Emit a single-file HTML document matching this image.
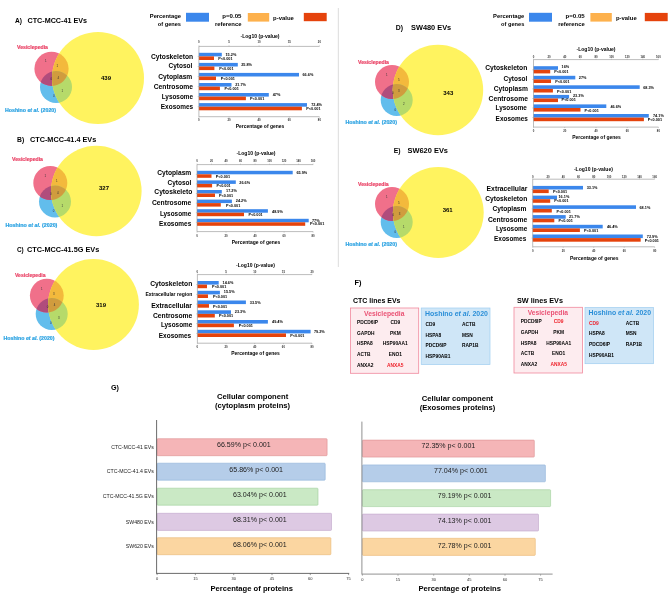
<!DOCTYPE html>
<html><head><meta charset="utf-8"><title>Figure</title>
<style>
html,body{margin:0;padding:0;background:#fff}
svg{display:block;font-family:'Liberation Sans', sans-serif}
</style></head><body>
<svg width="669" height="606" viewBox="0 0 669 606">
<defs>
<clipPath id="ay"><circle cx="98" cy="78" r="46"/></clipPath>
<clipPath id="ar"><circle cx="51.5" cy="68.8" r="17.1"/></clipPath>
<clipPath id="ab"><circle cx="56" cy="87" r="16"/></clipPath>
<clipPath id="by"><circle cx="96.3" cy="191" r="45.3"/></clipPath>
<clipPath id="br"><circle cx="50.3" cy="183" r="17"/></clipPath>
<clipPath id="bb"><circle cx="55" cy="201.5" r="16"/></clipPath>
<clipPath id="cy"><circle cx="93.5" cy="304.5" r="45.4"/></clipPath>
<clipPath id="cr"><circle cx="46.8" cy="295.6" r="16.9"/></clipPath>
<clipPath id="cb"><circle cx="51.7" cy="314" r="16"/></clipPath>
<clipPath id="dy"><circle cx="438" cy="90" r="45.2"/></clipPath>
<clipPath id="dr"><circle cx="392" cy="82" r="17"/></clipPath>
<clipPath id="db"><circle cx="396.7" cy="100" r="16"/></clipPath>
<clipPath id="ey"><circle cx="438.3" cy="212.5" r="45.4"/></clipPath>
<clipPath id="er"><circle cx="392" cy="204" r="17"/></clipPath>
<clipPath id="eb"><circle cx="396.7" cy="222" r="16"/></clipPath>
</defs>
<rect width="669" height="606" fill="#fff"/>
<circle cx="56" cy="87" r="16" fill="#62bdec"/>
<circle cx="51.5" cy="68.8" r="17.1" fill="#f0708a"/>
<circle cx="51.5" cy="68.8" r="17.1" fill="#b04c7c" clip-path="url(#ab)"/>
<circle cx="98" cy="78" r="46" fill="#fff35f"/>
<circle cx="51.5" cy="68.8" r="17.1" fill="#f3b93c" clip-path="url(#ay)"/>
<circle cx="56" cy="87" r="16" fill="#b6da6a" clip-path="url(#ay)"/>
<g clip-path="url(#ay)"><circle cx="51.5" cy="68.8" r="17.1" fill="#d09c3e" clip-path="url(#ab)"/></g>
<text x="15.0" y="22.9" font-size="7.2" font-weight="bold" textLength="7.0" lengthAdjust="spacingAndGlyphs">A)</text>
<text x="27.5" y="22.9" font-size="7.2" font-weight="bold" textLength="59.5" lengthAdjust="spacingAndGlyphs">CTC-MCC-41 EVs</text>
<text x="17.0" y="48.8" font-size="5.1" font-weight="bold" fill="#ea4467" stroke="#ea4467" stroke-width="0.2" textLength="31.0" lengthAdjust="spacingAndGlyphs">Vesiclepedia</text>
<text x="5.0" y="111.8" font-size="5.1" font-weight="bold" fill="#2aa2e2" stroke="#2aa2e2" stroke-width="0.2" textLength="51.0" lengthAdjust="spacingAndGlyphs">Hoshino <tspan font-style="italic">et al.</tspan> (2020)</text>
<text x="106.0" y="80.3" font-size="6.0" text-anchor="middle" font-weight="bold">439</text>
<text x="45.8" y="62.3" font-size="2.9" text-anchor="middle" fill="#333">1</text>
<text x="57.3" y="67.3" font-size="2.9" text-anchor="middle" fill="#333">1</text>
<text x="51.3" y="80.3" font-size="2.9" text-anchor="middle" fill="#333">0</text>
<text x="58.3" y="78.8" font-size="2.9" text-anchor="middle" fill="#333">4</text>
<text x="53.8" y="97.3" font-size="2.9" text-anchor="middle" fill="#333">0</text>
<text x="62.3" y="92.3" font-size="2.9" text-anchor="middle" fill="#333">1</text>
<circle cx="55" cy="201.5" r="16" fill="#62bdec"/>
<circle cx="50.3" cy="183" r="17" fill="#f0708a"/>
<circle cx="50.3" cy="183" r="17" fill="#b04c7c" clip-path="url(#bb)"/>
<circle cx="96.3" cy="191" r="45.3" fill="#fff35f"/>
<circle cx="50.3" cy="183" r="17" fill="#f3b93c" clip-path="url(#by)"/>
<circle cx="55" cy="201.5" r="16" fill="#b6da6a" clip-path="url(#by)"/>
<g clip-path="url(#by)"><circle cx="50.3" cy="183" r="17" fill="#d09c3e" clip-path="url(#bb)"/></g>
<text x="17.0" y="142.0" font-size="7.2" font-weight="bold" textLength="7.2" lengthAdjust="spacingAndGlyphs">B)</text>
<text x="30.0" y="142.0" font-size="7.2" font-weight="bold" textLength="66.2" lengthAdjust="spacingAndGlyphs">CTC-MCC-41.4 EVs</text>
<text x="12.0" y="160.5" font-size="5.1" font-weight="bold" fill="#ea4467" stroke="#ea4467" stroke-width="0.2" textLength="31.0" lengthAdjust="spacingAndGlyphs">Vesiclepedia</text>
<text x="5.5" y="226.8" font-size="5.1" font-weight="bold" fill="#2aa2e2" stroke="#2aa2e2" stroke-width="0.2" textLength="51.9" lengthAdjust="spacingAndGlyphs">Hoshino <tspan font-style="italic">et al.</tspan> (2020)</text>
<text x="104.0" y="189.7" font-size="6.0" text-anchor="middle" font-weight="bold">327</text>
<text x="45.3" y="177.3" font-size="2.9" text-anchor="middle" fill="#333">1</text>
<text x="56.8" y="181.8" font-size="2.9" text-anchor="middle" fill="#333">1</text>
<text x="50.8" y="194.8" font-size="2.9" text-anchor="middle" fill="#333">0</text>
<text x="57.8" y="193.5" font-size="2.9" text-anchor="middle" fill="#333">4</text>
<text x="53.5" y="212.3" font-size="2.9" text-anchor="middle" fill="#333">0</text>
<text x="62.3" y="206.8" font-size="2.9" text-anchor="middle" fill="#333">1</text>
<circle cx="51.7" cy="314" r="16" fill="#62bdec"/>
<circle cx="46.8" cy="295.6" r="16.9" fill="#f0708a"/>
<circle cx="46.8" cy="295.6" r="16.9" fill="#b04c7c" clip-path="url(#cb)"/>
<circle cx="93.5" cy="304.5" r="45.4" fill="#fff35f"/>
<circle cx="46.8" cy="295.6" r="16.9" fill="#f3b93c" clip-path="url(#cy)"/>
<circle cx="51.7" cy="314" r="16" fill="#b6da6a" clip-path="url(#cy)"/>
<g clip-path="url(#cy)"><circle cx="46.8" cy="295.6" r="16.9" fill="#d09c3e" clip-path="url(#cb)"/></g>
<text x="17.0" y="251.7" font-size="7.2" font-weight="bold" textLength="6.7" lengthAdjust="spacingAndGlyphs">C)</text>
<text x="27.0" y="251.7" font-size="7.2" font-weight="bold" textLength="72.2" lengthAdjust="spacingAndGlyphs">CTC-MCC-41.5G EVs</text>
<text x="15.0" y="276.8" font-size="5.1" font-weight="bold" fill="#ea4467" stroke="#ea4467" stroke-width="0.2" textLength="30.5" lengthAdjust="spacingAndGlyphs">Vesiclepedia</text>
<text x="3.5" y="339.8" font-size="5.1" font-weight="bold" fill="#2aa2e2" stroke="#2aa2e2" stroke-width="0.2" textLength="51.0" lengthAdjust="spacingAndGlyphs">Hoshino <tspan font-style="italic">et al.</tspan> (2020)</text>
<text x="101.0" y="307.1" font-size="6.0" text-anchor="middle" font-weight="bold">319</text>
<text x="41.8" y="289.8" font-size="2.9" text-anchor="middle" fill="#333">1</text>
<text x="53.8" y="294.8" font-size="2.9" text-anchor="middle" fill="#333">3</text>
<text x="47.5" y="307.8" font-size="2.9" text-anchor="middle" fill="#333">0</text>
<text x="54.5" y="305.8" font-size="2.9" text-anchor="middle" fill="#333">4</text>
<text x="50.8" y="324.3" font-size="2.9" text-anchor="middle" fill="#333">0</text>
<text x="58.8" y="319.3" font-size="2.9" text-anchor="middle" fill="#333">3</text>
<circle cx="396.7" cy="100" r="16" fill="#62bdec"/>
<circle cx="392" cy="82" r="17" fill="#f0708a"/>
<circle cx="392" cy="82" r="17" fill="#b04c7c" clip-path="url(#db)"/>
<circle cx="438" cy="90" r="45.2" fill="#fff35f"/>
<circle cx="392" cy="82" r="17" fill="#f3b93c" clip-path="url(#dy)"/>
<circle cx="396.7" cy="100" r="16" fill="#b6da6a" clip-path="url(#dy)"/>
<g clip-path="url(#dy)"><circle cx="392" cy="82" r="17" fill="#d09c3e" clip-path="url(#db)"/></g>
<text x="395.7" y="29.5" font-size="7.2" font-weight="bold" textLength="7.3" lengthAdjust="spacingAndGlyphs">D)</text>
<text x="411.0" y="29.5" font-size="7.2" font-weight="bold" textLength="40.2" lengthAdjust="spacingAndGlyphs">SW480 EVs</text>
<text x="358.0" y="63.5" font-size="5.1" font-weight="bold" fill="#ea4467" stroke="#ea4467" stroke-width="0.2" textLength="31.0" lengthAdjust="spacingAndGlyphs">Vesiclepedia</text>
<text x="345.5" y="124.3" font-size="5.1" font-weight="bold" fill="#2aa2e2" stroke="#2aa2e2" stroke-width="0.2" textLength="51.5" lengthAdjust="spacingAndGlyphs">Hoshino <tspan font-style="italic">et al.</tspan> (2020)</text>
<text x="448.3" y="94.6" font-size="6.0" text-anchor="middle" font-weight="bold">343</text>
<text x="386.8" y="75.8" font-size="2.9" text-anchor="middle" fill="#333">1</text>
<text x="398.8" y="81.3" font-size="2.9" text-anchor="middle" fill="#333">5</text>
<text x="392.8" y="93.8" font-size="2.9" text-anchor="middle" fill="#333">0</text>
<text x="398.8" y="92.3" font-size="2.9" text-anchor="middle" fill="#333">3</text>
<text x="395.3" y="110.5" font-size="2.9" text-anchor="middle" fill="#333">0</text>
<text x="403.8" y="104.8" font-size="2.9" text-anchor="middle" fill="#333">2</text>
<circle cx="396.7" cy="222" r="16" fill="#62bdec"/>
<circle cx="392" cy="204" r="17" fill="#f0708a"/>
<circle cx="392" cy="204" r="17" fill="#b04c7c" clip-path="url(#eb)"/>
<circle cx="438.3" cy="212.5" r="45.4" fill="#fff35f"/>
<circle cx="392" cy="204" r="17" fill="#f3b93c" clip-path="url(#ey)"/>
<circle cx="396.7" cy="222" r="16" fill="#b6da6a" clip-path="url(#ey)"/>
<g clip-path="url(#ey)"><circle cx="392" cy="204" r="17" fill="#d09c3e" clip-path="url(#eb)"/></g>
<text x="393.7" y="153.0" font-size="7.2" font-weight="bold" textLength="6.8" lengthAdjust="spacingAndGlyphs">E)</text>
<text x="407.5" y="153.0" font-size="7.2" font-weight="bold" textLength="40.5" lengthAdjust="spacingAndGlyphs">SW620 EVs</text>
<text x="358.0" y="185.5" font-size="5.1" font-weight="bold" fill="#ea4467" stroke="#ea4467" stroke-width="0.2" textLength="30.7" lengthAdjust="spacingAndGlyphs">Vesiclepedia</text>
<text x="345.5" y="245.8" font-size="5.1" font-weight="bold" fill="#2aa2e2" stroke="#2aa2e2" stroke-width="0.2" textLength="51.5" lengthAdjust="spacingAndGlyphs">Hoshino <tspan font-style="italic">et al.</tspan> (2020)</text>
<text x="447.7" y="212.1" font-size="6.0" text-anchor="middle" font-weight="bold">361</text>
<text x="386.8" y="197.8" font-size="2.9" text-anchor="middle" fill="#333">1</text>
<text x="398.8" y="203.5" font-size="2.9" text-anchor="middle" fill="#333">5</text>
<text x="393.3" y="215.8" font-size="2.9" text-anchor="middle" fill="#333">0</text>
<text x="399.5" y="214.5" font-size="2.9" text-anchor="middle" fill="#333">3</text>
<text x="395.3" y="232.8" font-size="2.9" text-anchor="middle" fill="#333">0</text>
<text x="403.8" y="227.5" font-size="2.9" text-anchor="middle" fill="#333">1</text>
<line x1="338.4" y1="7.9" x2="338.4" y2="267.0" stroke="#e2e2e2" stroke-width="1.2"/>
<text x="149.8" y="18.2" font-size="6.0" font-weight="bold" textLength="31.2" lengthAdjust="spacingAndGlyphs">Percentage</text>
<text x="157.8" y="26.2" font-size="6.0" font-weight="bold" textLength="23.2" lengthAdjust="spacingAndGlyphs">of genes</text>
<rect x="186.0" y="12.8" width="23.0" height="8.9" fill="#3b87ec"/>
<text x="222.3" y="18.2" font-size="6.0" font-weight="bold" textLength="19.2" lengthAdjust="spacingAndGlyphs">p=0.05</text>
<text x="215.0" y="26.2" font-size="6.0" font-weight="bold" textLength="26.5" lengthAdjust="spacingAndGlyphs">reference</text>
<rect x="247.8" y="13.0" width="21.4" height="8.6" fill="#fdb14d"/>
<text x="273.1" y="20.4" font-size="6.0" font-weight="bold" textLength="20.8" lengthAdjust="spacingAndGlyphs">p-value</text>
<rect x="303.8" y="12.9" width="22.9" height="8.3" fill="#e5430c"/>
<text x="493.1" y="18.2" font-size="6.0" font-weight="bold" textLength="31.2" lengthAdjust="spacingAndGlyphs">Percentage</text>
<text x="501.1" y="26.2" font-size="6.0" font-weight="bold" textLength="23.2" lengthAdjust="spacingAndGlyphs">of genes</text>
<rect x="529.0" y="12.8" width="23.0" height="8.9" fill="#3b87ec"/>
<text x="565.5" y="18.2" font-size="6.0" font-weight="bold" textLength="19.2" lengthAdjust="spacingAndGlyphs">p=0.05</text>
<text x="558.2" y="26.2" font-size="6.0" font-weight="bold" textLength="26.5" lengthAdjust="spacingAndGlyphs">reference</text>
<rect x="590.4" y="13.0" width="21.4" height="8.6" fill="#fdb14d"/>
<text x="615.9" y="20.4" font-size="6.0" font-weight="bold" textLength="20.8" lengthAdjust="spacingAndGlyphs">p-value</text>
<rect x="644.8" y="12.9" width="22.9" height="8.3" fill="#e5430c"/>
<text x="260.0" y="38.3" font-size="5.0" text-anchor="middle" font-weight="bold" textLength="39.0" lengthAdjust="spacingAndGlyphs">-Log10 (p-value)</text>
<text x="198.9" y="43.4" font-size="2.8" text-anchor="middle" font-weight="bold" fill="#333">0</text>
<line x1="198.9" y1="46.4" x2="198.9" y2="45.4" stroke="#8e8e8e" stroke-width="0.4"/>
<text x="229.0" y="43.4" font-size="2.8" text-anchor="middle" font-weight="bold" fill="#333">5</text>
<line x1="229.0" y1="46.4" x2="229.0" y2="45.4" stroke="#8e8e8e" stroke-width="0.4"/>
<text x="259.1" y="43.4" font-size="2.8" text-anchor="middle" font-weight="bold" fill="#333">10</text>
<line x1="259.1" y1="46.4" x2="259.1" y2="45.4" stroke="#8e8e8e" stroke-width="0.4"/>
<text x="289.3" y="43.4" font-size="2.8" text-anchor="middle" font-weight="bold" fill="#333">15</text>
<line x1="289.3" y1="46.4" x2="289.3" y2="45.4" stroke="#8e8e8e" stroke-width="0.4"/>
<text x="319.4" y="43.4" font-size="2.8" text-anchor="middle" font-weight="bold" fill="#333">20</text>
<line x1="319.4" y1="46.4" x2="319.4" y2="45.4" stroke="#8e8e8e" stroke-width="0.4"/>
<text x="198.9" y="121.0" font-size="2.8" text-anchor="middle" font-weight="bold" fill="#333">0</text>
<line x1="198.9" y1="116.7" x2="198.9" y2="117.7" stroke="#8e8e8e" stroke-width="0.4"/>
<text x="229.0" y="121.0" font-size="2.8" text-anchor="middle" font-weight="bold" fill="#333">20</text>
<line x1="229.0" y1="116.7" x2="229.0" y2="117.7" stroke="#8e8e8e" stroke-width="0.4"/>
<text x="259.1" y="121.0" font-size="2.8" text-anchor="middle" font-weight="bold" fill="#333">40</text>
<line x1="259.1" y1="116.7" x2="259.1" y2="117.7" stroke="#8e8e8e" stroke-width="0.4"/>
<text x="289.3" y="121.0" font-size="2.8" text-anchor="middle" font-weight="bold" fill="#333">60</text>
<line x1="289.3" y1="116.7" x2="289.3" y2="117.7" stroke="#8e8e8e" stroke-width="0.4"/>
<text x="319.4" y="121.0" font-size="2.8" text-anchor="middle" font-weight="bold" fill="#333">80</text>
<line x1="319.4" y1="116.7" x2="319.4" y2="117.7" stroke="#8e8e8e" stroke-width="0.4"/>
<text x="235.7" y="127.5" font-size="5.6" font-weight="bold" textLength="48.6" lengthAdjust="spacingAndGlyphs">Percentage of genes</text>
<rect x="198.9" y="52.8" width="22.9" height="3.6" fill="#3b87ec"/>
<rect x="198.9" y="56.4" width="15.1" height="3.6" fill="#e5430c"/>
<line x1="197.7" y1="56.4" x2="198.9" y2="56.4" stroke="#8e8e8e" stroke-width="0.4"/>
<text x="151.0" y="58.5" font-size="6.7" font-weight="bold" textLength="42.1" lengthAdjust="spacingAndGlyphs">Cytoskeleton</text>
<text x="225.5" y="55.6" font-size="3.8" font-weight="bold">15.2%</text>
<text x="218.3" y="59.5" font-size="3.8" font-weight="bold">P&lt;0.001</text>
<rect x="198.9" y="62.9" width="38.9" height="3.6" fill="#3b87ec"/>
<rect x="198.9" y="66.5" width="15.5" height="3.6" fill="#e5430c"/>
<line x1="197.7" y1="66.5" x2="198.9" y2="66.5" stroke="#8e8e8e" stroke-width="0.4"/>
<text x="168.5" y="68.4" font-size="6.7" font-weight="bold" textLength="23.8" lengthAdjust="spacingAndGlyphs">Cytosol</text>
<text x="241.2" y="65.7" font-size="3.8" font-weight="bold">25.8%</text>
<text x="219.3" y="69.8" font-size="3.8" font-weight="bold">P&lt;0.001</text>
<rect x="198.9" y="72.9" width="100.1" height="3.6" fill="#3b87ec"/>
<rect x="198.9" y="76.5" width="17.1" height="3.6" fill="#e5430c"/>
<line x1="197.7" y1="76.5" x2="198.9" y2="76.5" stroke="#8e8e8e" stroke-width="0.4"/>
<text x="158.2" y="78.6" font-size="6.7" font-weight="bold" textLength="34.1" lengthAdjust="spacingAndGlyphs">Cytoplasm</text>
<text x="302.5" y="75.8" font-size="3.8" font-weight="bold">66.6%</text>
<text x="220.7" y="79.9" font-size="3.8" font-weight="bold">P&lt;0.001</text>
<rect x="198.9" y="83.0" width="32.6" height="3.6" fill="#3b87ec"/>
<rect x="198.9" y="86.6" width="21.0" height="3.6" fill="#e5430c"/>
<line x1="197.7" y1="86.6" x2="198.9" y2="86.6" stroke="#8e8e8e" stroke-width="0.4"/>
<text x="153.7" y="88.8" font-size="6.7" font-weight="bold" textLength="39.4" lengthAdjust="spacingAndGlyphs">Centrosome</text>
<text x="235.2" y="85.9" font-size="3.8" font-weight="bold">21.7%</text>
<text x="224.5" y="89.8" font-size="3.8" font-weight="bold">P&lt;0.001</text>
<rect x="198.9" y="93.0" width="69.9" height="3.6" fill="#3b87ec"/>
<rect x="198.9" y="96.6" width="47.0" height="3.6" fill="#e5430c"/>
<line x1="197.7" y1="96.6" x2="198.9" y2="96.6" stroke="#8e8e8e" stroke-width="0.4"/>
<text x="161.7" y="98.8" font-size="6.7" font-weight="bold" textLength="31.4" lengthAdjust="spacingAndGlyphs">Lysosome</text>
<text x="272.7" y="96.3" font-size="3.8" font-weight="bold">47%</text>
<text x="250.0" y="100.1" font-size="3.8" font-weight="bold">P&lt;0.001</text>
<rect x="198.9" y="103.1" width="108.1" height="3.6" fill="#3b87ec"/>
<rect x="198.9" y="106.7" width="103.0" height="3.6" fill="#e5430c"/>
<line x1="197.7" y1="106.7" x2="198.9" y2="106.7" stroke="#8e8e8e" stroke-width="0.4"/>
<text x="160.8" y="109.2" font-size="6.7" font-weight="bold" textLength="32.3" lengthAdjust="spacingAndGlyphs">Exosomes</text>
<text x="311.2" y="105.6" font-size="3.8" font-weight="bold">72.4%</text>
<text x="306.3" y="109.6" font-size="3.8" font-weight="bold">P&lt;0.001</text>
<line x1="198.9" y1="46.4" x2="319.4" y2="46.4" stroke="#8e8e8e" stroke-width="0.6"/>
<line x1="198.9" y1="116.7" x2="319.4" y2="116.7" stroke="#8e8e8e" stroke-width="0.6"/>
<line x1="198.9" y1="46.4" x2="198.9" y2="116.7" stroke="#8e8e8e" stroke-width="0.6"/>
<text x="256.0" y="155.3" font-size="5.0" text-anchor="middle" font-weight="bold" textLength="39.0" lengthAdjust="spacingAndGlyphs">-Log10 (p-value)</text>
<text x="197.0" y="162.4" font-size="2.8" text-anchor="middle" font-weight="bold" fill="#333">0</text>
<line x1="197.0" y1="164.6" x2="197.0" y2="163.6" stroke="#8e8e8e" stroke-width="0.4"/>
<text x="211.5" y="162.4" font-size="2.8" text-anchor="middle" font-weight="bold" fill="#333">20</text>
<line x1="211.5" y1="164.6" x2="211.5" y2="163.6" stroke="#8e8e8e" stroke-width="0.4"/>
<text x="226.0" y="162.4" font-size="2.8" text-anchor="middle" font-weight="bold" fill="#333">40</text>
<line x1="226.0" y1="164.6" x2="226.0" y2="163.6" stroke="#8e8e8e" stroke-width="0.4"/>
<text x="240.5" y="162.4" font-size="2.8" text-anchor="middle" font-weight="bold" fill="#333">60</text>
<line x1="240.5" y1="164.6" x2="240.5" y2="163.6" stroke="#8e8e8e" stroke-width="0.4"/>
<text x="255.1" y="162.4" font-size="2.8" text-anchor="middle" font-weight="bold" fill="#333">80</text>
<line x1="255.1" y1="164.6" x2="255.1" y2="163.6" stroke="#8e8e8e" stroke-width="0.4"/>
<text x="269.6" y="162.4" font-size="2.8" text-anchor="middle" font-weight="bold" fill="#333">100</text>
<line x1="269.6" y1="164.6" x2="269.6" y2="163.6" stroke="#8e8e8e" stroke-width="0.4"/>
<text x="284.1" y="162.4" font-size="2.8" text-anchor="middle" font-weight="bold" fill="#333">120</text>
<line x1="284.1" y1="164.6" x2="284.1" y2="163.6" stroke="#8e8e8e" stroke-width="0.4"/>
<text x="298.6" y="162.4" font-size="2.8" text-anchor="middle" font-weight="bold" fill="#333">140</text>
<line x1="298.6" y1="164.6" x2="298.6" y2="163.6" stroke="#8e8e8e" stroke-width="0.4"/>
<text x="313.1" y="162.4" font-size="2.8" text-anchor="middle" font-weight="bold" fill="#333">160</text>
<line x1="313.1" y1="164.6" x2="313.1" y2="163.6" stroke="#8e8e8e" stroke-width="0.4"/>
<text x="197.0" y="236.5" font-size="2.8" text-anchor="middle" font-weight="bold" fill="#333">0</text>
<line x1="197.0" y1="231.6" x2="197.0" y2="232.6" stroke="#8e8e8e" stroke-width="0.4"/>
<text x="226.0" y="236.5" font-size="2.8" text-anchor="middle" font-weight="bold" fill="#333">20</text>
<line x1="226.0" y1="231.6" x2="226.0" y2="232.6" stroke="#8e8e8e" stroke-width="0.4"/>
<text x="255.1" y="236.5" font-size="2.8" text-anchor="middle" font-weight="bold" fill="#333">40</text>
<line x1="255.1" y1="231.6" x2="255.1" y2="232.6" stroke="#8e8e8e" stroke-width="0.4"/>
<text x="284.1" y="236.5" font-size="2.8" text-anchor="middle" font-weight="bold" fill="#333">60</text>
<line x1="284.1" y1="231.6" x2="284.1" y2="232.6" stroke="#8e8e8e" stroke-width="0.4"/>
<text x="313.1" y="236.5" font-size="2.8" text-anchor="middle" font-weight="bold" fill="#333">80</text>
<line x1="313.1" y1="231.6" x2="313.1" y2="232.6" stroke="#8e8e8e" stroke-width="0.4"/>
<text x="231.7" y="244.0" font-size="5.6" font-weight="bold" textLength="48.6" lengthAdjust="spacingAndGlyphs">Percentage of genes</text>
<rect x="197.0" y="170.8" width="95.7" height="3.5" fill="#3b87ec"/>
<rect x="197.0" y="174.3" width="14.5" height="3.5" fill="#e5430c"/>
<line x1="195.8" y1="174.3" x2="197.0" y2="174.3" stroke="#8e8e8e" stroke-width="0.4"/>
<text x="157.2" y="174.7" font-size="6.7" font-weight="bold" textLength="34.1" lengthAdjust="spacingAndGlyphs">Cytoplasm</text>
<text x="296.4" y="173.6" font-size="3.8" font-weight="bold">65.9%</text>
<text x="215.8" y="177.5" font-size="3.8" font-weight="bold">P&lt;0.001</text>
<rect x="197.0" y="180.4" width="38.8" height="3.5" fill="#3b87ec"/>
<rect x="197.0" y="183.9" width="15.1" height="3.5" fill="#e5430c"/>
<line x1="195.8" y1="183.9" x2="197.0" y2="183.9" stroke="#8e8e8e" stroke-width="0.4"/>
<text x="167.5" y="184.8" font-size="6.7" font-weight="bold" textLength="23.8" lengthAdjust="spacingAndGlyphs">Cytosol</text>
<text x="239.3" y="183.6" font-size="3.8" font-weight="bold">26.6%</text>
<text x="216.4" y="187.4" font-size="3.8" font-weight="bold">P&lt;0.001</text>
<rect x="197.0" y="190.0" width="24.8" height="3.5" fill="#3b87ec"/>
<rect x="197.0" y="193.5" width="18.0" height="3.5" fill="#e5430c"/>
<line x1="195.8" y1="193.5" x2="197.0" y2="193.5" stroke="#8e8e8e" stroke-width="0.4"/>
<text x="154.3" y="194.4" font-size="6.7" font-weight="bold" textLength="38.0" lengthAdjust="spacingAndGlyphs">Cytoskeleto</text>
<text x="226.1" y="192.1" font-size="3.8" font-weight="bold">17.2%</text>
<text x="218.9" y="196.8" font-size="3.8" font-weight="bold">P&lt;0.001</text>
<rect x="197.0" y="199.6" width="34.9" height="3.5" fill="#3b87ec"/>
<rect x="197.0" y="203.1" width="23.8" height="3.5" fill="#e5430c"/>
<line x1="195.8" y1="203.1" x2="197.0" y2="203.1" stroke="#8e8e8e" stroke-width="0.4"/>
<text x="151.9" y="205.1" font-size="6.7" font-weight="bold" textLength="39.4" lengthAdjust="spacingAndGlyphs">Centrosome</text>
<text x="235.8" y="202.2" font-size="3.8" font-weight="bold">24.2%</text>
<text x="226.1" y="206.7" font-size="3.8" font-weight="bold">P&lt;0.001</text>
<rect x="197.0" y="209.2" width="70.9" height="3.5" fill="#3b87ec"/>
<rect x="197.0" y="212.7" width="47.0" height="3.5" fill="#e5430c"/>
<line x1="195.8" y1="212.7" x2="197.0" y2="212.7" stroke="#8e8e8e" stroke-width="0.4"/>
<text x="159.9" y="215.5" font-size="6.7" font-weight="bold" textLength="31.4" lengthAdjust="spacingAndGlyphs">Lysosome</text>
<text x="272.1" y="212.7" font-size="3.8" font-weight="bold">48.9%</text>
<text x="248.4" y="216.0" font-size="3.8" font-weight="bold">P&lt;0.001</text>
<rect x="197.0" y="218.8" width="111.7" height="3.5" fill="#3b87ec"/>
<rect x="197.0" y="222.3" width="108.2" height="3.5" fill="#e5430c"/>
<line x1="195.8" y1="222.3" x2="197.0" y2="222.3" stroke="#8e8e8e" stroke-width="0.4"/>
<text x="159.0" y="226.2" font-size="6.7" font-weight="bold" textLength="32.3" lengthAdjust="spacingAndGlyphs">Exosomes</text>
<text x="312.0" y="221.5" font-size="3.8" font-weight="bold">77%</text>
<text x="310.0" y="225.3" font-size="3.8" font-weight="bold">P&lt;0.001</text>
<line x1="197.0" y1="164.6" x2="313.1" y2="164.6" stroke="#8e8e8e" stroke-width="0.6"/>
<line x1="197.0" y1="231.6" x2="313.1" y2="231.6" stroke="#8e8e8e" stroke-width="0.6"/>
<line x1="197.0" y1="164.6" x2="197.0" y2="231.6" stroke="#8e8e8e" stroke-width="0.6"/>
<text x="255.5" y="266.7" font-size="5.0" text-anchor="middle" font-weight="bold" textLength="39.0" lengthAdjust="spacingAndGlyphs">-Log10 (p-value)</text>
<text x="197.4" y="272.5" font-size="2.8" text-anchor="middle" font-weight="bold" fill="#333">0</text>
<line x1="197.4" y1="274.6" x2="197.4" y2="273.6" stroke="#8e8e8e" stroke-width="0.4"/>
<text x="226.1" y="272.5" font-size="2.8" text-anchor="middle" font-weight="bold" fill="#333">5</text>
<line x1="226.1" y1="274.6" x2="226.1" y2="273.6" stroke="#8e8e8e" stroke-width="0.4"/>
<text x="254.7" y="272.5" font-size="2.8" text-anchor="middle" font-weight="bold" fill="#333">10</text>
<line x1="254.7" y1="274.6" x2="254.7" y2="273.6" stroke="#8e8e8e" stroke-width="0.4"/>
<text x="283.4" y="272.5" font-size="2.8" text-anchor="middle" font-weight="bold" fill="#333">15</text>
<line x1="283.4" y1="274.6" x2="283.4" y2="273.6" stroke="#8e8e8e" stroke-width="0.4"/>
<text x="312.0" y="272.5" font-size="2.8" text-anchor="middle" font-weight="bold" fill="#333">20</text>
<line x1="312.0" y1="274.6" x2="312.0" y2="273.6" stroke="#8e8e8e" stroke-width="0.4"/>
<text x="197.4" y="347.9" font-size="2.8" text-anchor="middle" font-weight="bold" fill="#333">0</text>
<line x1="197.4" y1="343.2" x2="197.4" y2="344.2" stroke="#8e8e8e" stroke-width="0.4"/>
<text x="226.1" y="347.9" font-size="2.8" text-anchor="middle" font-weight="bold" fill="#333">20</text>
<line x1="226.1" y1="343.2" x2="226.1" y2="344.2" stroke="#8e8e8e" stroke-width="0.4"/>
<text x="254.7" y="347.9" font-size="2.8" text-anchor="middle" font-weight="bold" fill="#333">40</text>
<line x1="254.7" y1="343.2" x2="254.7" y2="344.2" stroke="#8e8e8e" stroke-width="0.4"/>
<text x="283.4" y="347.9" font-size="2.8" text-anchor="middle" font-weight="bold" fill="#333">60</text>
<line x1="283.4" y1="343.2" x2="283.4" y2="344.2" stroke="#8e8e8e" stroke-width="0.4"/>
<text x="312.0" y="347.9" font-size="2.8" text-anchor="middle" font-weight="bold" fill="#333">80</text>
<line x1="312.0" y1="343.2" x2="312.0" y2="344.2" stroke="#8e8e8e" stroke-width="0.4"/>
<text x="231.2" y="355.3" font-size="5.6" font-weight="bold" textLength="48.6" lengthAdjust="spacingAndGlyphs">Percentage of genes</text>
<rect x="197.4" y="281.0" width="21.3" height="3.6" fill="#3b87ec"/>
<rect x="197.4" y="284.6" width="9.6" height="3.6" fill="#e5430c"/>
<line x1="196.2" y1="284.6" x2="197.4" y2="284.6" stroke="#8e8e8e" stroke-width="0.4"/>
<text x="150.2" y="285.7" font-size="6.7" font-weight="bold" textLength="42.1" lengthAdjust="spacingAndGlyphs">Cytoskeleton</text>
<text x="222.6" y="283.7" font-size="3.8" font-weight="bold">14.6%</text>
<text x="212.1" y="287.6" font-size="3.8" font-weight="bold">P&lt;0.001</text>
<rect x="197.4" y="290.8" width="22.5" height="3.6" fill="#3b87ec"/>
<rect x="197.4" y="294.4" width="10.6" height="3.6" fill="#e5430c"/>
<line x1="196.2" y1="294.4" x2="197.4" y2="294.4" stroke="#8e8e8e" stroke-width="0.4"/>
<text x="145.4" y="296.1" font-size="4.7" font-weight="bold" textLength="46.9" lengthAdjust="spacingAndGlyphs">Extracellular region</text>
<text x="223.8" y="293.4" font-size="3.8" font-weight="bold">15.5%</text>
<text x="212.9" y="297.7" font-size="3.8" font-weight="bold">P&lt;0.001</text>
<rect x="197.4" y="300.5" width="48.5" height="3.6" fill="#3b87ec"/>
<rect x="197.4" y="304.1" width="11.6" height="3.6" fill="#e5430c"/>
<line x1="196.2" y1="304.1" x2="197.4" y2="304.1" stroke="#8e8e8e" stroke-width="0.4"/>
<text x="151.2" y="307.7" font-size="6.7" font-weight="bold" textLength="40.7" lengthAdjust="spacingAndGlyphs">Extracellular</text>
<text x="249.8" y="303.7" font-size="3.8" font-weight="bold">33.5%</text>
<text x="212.9" y="307.6" font-size="3.8" font-weight="bold">P&lt;0.001</text>
<rect x="197.4" y="310.3" width="33.6" height="3.6" fill="#3b87ec"/>
<rect x="197.4" y="313.9" width="17.4" height="3.6" fill="#e5430c"/>
<line x1="196.2" y1="313.9" x2="197.4" y2="313.9" stroke="#8e8e8e" stroke-width="0.4"/>
<text x="152.9" y="318.0" font-size="6.7" font-weight="bold" textLength="39.4" lengthAdjust="spacingAndGlyphs">Centrosome</text>
<text x="234.8" y="313.4" font-size="3.8" font-weight="bold">23.3%</text>
<text x="218.9" y="317.3" font-size="3.8" font-weight="bold">P&lt;0.001</text>
<rect x="197.4" y="320.0" width="70.5" height="3.6" fill="#3b87ec"/>
<rect x="197.4" y="323.6" width="36.5" height="3.6" fill="#e5430c"/>
<line x1="196.2" y1="323.6" x2="197.4" y2="323.6" stroke="#8e8e8e" stroke-width="0.4"/>
<text x="160.9" y="327.0" font-size="6.7" font-weight="bold" textLength="31.4" lengthAdjust="spacingAndGlyphs">Lysosome</text>
<text x="272.1" y="323.3" font-size="3.8" font-weight="bold">49.4%</text>
<text x="238.7" y="327.2" font-size="3.8" font-weight="bold">P&lt;0.001</text>
<rect x="197.4" y="329.8" width="113.2" height="3.6" fill="#3b87ec"/>
<rect x="197.4" y="333.4" width="88.6" height="3.6" fill="#e5430c"/>
<line x1="196.2" y1="333.4" x2="197.4" y2="333.4" stroke="#8e8e8e" stroke-width="0.4"/>
<text x="158.8" y="337.6" font-size="6.7" font-weight="bold" textLength="32.3" lengthAdjust="spacingAndGlyphs">Exosomes</text>
<text x="313.9" y="332.7" font-size="3.8" font-weight="bold">79.2%</text>
<text x="290.2" y="336.8" font-size="3.8" font-weight="bold">P&lt;0.001</text>
<line x1="197.4" y1="274.6" x2="312.0" y2="274.6" stroke="#8e8e8e" stroke-width="0.6"/>
<line x1="197.4" y1="343.2" x2="312.0" y2="343.2" stroke="#8e8e8e" stroke-width="0.6"/>
<line x1="197.4" y1="274.6" x2="197.4" y2="343.2" stroke="#8e8e8e" stroke-width="0.6"/>
<text x="596.0" y="51.4" font-size="5.0" text-anchor="middle" font-weight="bold" textLength="39.0" lengthAdjust="spacingAndGlyphs">-Log10 (p-value)</text>
<text x="533.5" y="57.9" font-size="2.8" text-anchor="middle" font-weight="bold" fill="#333">0</text>
<line x1="533.5" y1="59.6" x2="533.5" y2="58.6" stroke="#8e8e8e" stroke-width="0.4"/>
<text x="549.1" y="57.9" font-size="2.8" text-anchor="middle" font-weight="bold" fill="#333">20</text>
<line x1="549.1" y1="59.6" x2="549.1" y2="58.6" stroke="#8e8e8e" stroke-width="0.4"/>
<text x="564.7" y="57.9" font-size="2.8" text-anchor="middle" font-weight="bold" fill="#333">40</text>
<line x1="564.7" y1="59.6" x2="564.7" y2="58.6" stroke="#8e8e8e" stroke-width="0.4"/>
<text x="580.3" y="57.9" font-size="2.8" text-anchor="middle" font-weight="bold" fill="#333">60</text>
<line x1="580.3" y1="59.6" x2="580.3" y2="58.6" stroke="#8e8e8e" stroke-width="0.4"/>
<text x="596.0" y="57.9" font-size="2.8" text-anchor="middle" font-weight="bold" fill="#333">80</text>
<line x1="596.0" y1="59.6" x2="596.0" y2="58.6" stroke="#8e8e8e" stroke-width="0.4"/>
<text x="611.6" y="57.9" font-size="2.8" text-anchor="middle" font-weight="bold" fill="#333">100</text>
<line x1="611.6" y1="59.6" x2="611.6" y2="58.6" stroke="#8e8e8e" stroke-width="0.4"/>
<text x="627.2" y="57.9" font-size="2.8" text-anchor="middle" font-weight="bold" fill="#333">120</text>
<line x1="627.2" y1="59.6" x2="627.2" y2="58.6" stroke="#8e8e8e" stroke-width="0.4"/>
<text x="642.8" y="57.9" font-size="2.8" text-anchor="middle" font-weight="bold" fill="#333">140</text>
<line x1="642.8" y1="59.6" x2="642.8" y2="58.6" stroke="#8e8e8e" stroke-width="0.4"/>
<text x="658.4" y="57.9" font-size="2.8" text-anchor="middle" font-weight="bold" fill="#333">160</text>
<line x1="658.4" y1="59.6" x2="658.4" y2="58.6" stroke="#8e8e8e" stroke-width="0.4"/>
<text x="533.5" y="131.8" font-size="2.8" text-anchor="middle" font-weight="bold" fill="#333">0</text>
<line x1="533.5" y1="127.1" x2="533.5" y2="128.1" stroke="#8e8e8e" stroke-width="0.4"/>
<text x="564.7" y="131.8" font-size="2.8" text-anchor="middle" font-weight="bold" fill="#333">20</text>
<line x1="564.7" y1="127.1" x2="564.7" y2="128.1" stroke="#8e8e8e" stroke-width="0.4"/>
<text x="596.0" y="131.8" font-size="2.8" text-anchor="middle" font-weight="bold" fill="#333">40</text>
<line x1="596.0" y1="127.1" x2="596.0" y2="128.1" stroke="#8e8e8e" stroke-width="0.4"/>
<text x="627.2" y="131.8" font-size="2.8" text-anchor="middle" font-weight="bold" fill="#333">60</text>
<line x1="627.2" y1="127.1" x2="627.2" y2="128.1" stroke="#8e8e8e" stroke-width="0.4"/>
<text x="658.4" y="131.8" font-size="2.8" text-anchor="middle" font-weight="bold" fill="#333">80</text>
<line x1="658.4" y1="127.1" x2="658.4" y2="128.1" stroke="#8e8e8e" stroke-width="0.4"/>
<text x="572.2" y="139.1" font-size="5.6" font-weight="bold" textLength="48.6" lengthAdjust="spacingAndGlyphs">Percentage of genes</text>
<rect x="533.5" y="66.2" width="24.5" height="3.6" fill="#3b87ec"/>
<rect x="533.5" y="69.8" width="16.7" height="3.6" fill="#e5430c"/>
<line x1="532.3" y1="69.8" x2="533.5" y2="69.8" stroke="#8e8e8e" stroke-width="0.4"/>
<text x="485.2" y="70.3" font-size="6.7" font-weight="bold" textLength="42.1" lengthAdjust="spacingAndGlyphs">Cytoskeleton</text>
<text x="561.6" y="68.2" font-size="3.8" font-weight="bold">16%</text>
<text x="554.3" y="72.9" font-size="3.8" font-weight="bold">P&lt;0.001</text>
<rect x="533.5" y="75.8" width="41.8" height="3.6" fill="#3b87ec"/>
<rect x="533.5" y="79.4" width="17.5" height="3.6" fill="#e5430c"/>
<line x1="532.3" y1="79.4" x2="533.5" y2="79.4" stroke="#8e8e8e" stroke-width="0.4"/>
<text x="503.5" y="81.2" font-size="6.7" font-weight="bold" textLength="23.8" lengthAdjust="spacingAndGlyphs">Cytosol</text>
<text x="578.8" y="78.5" font-size="3.8" font-weight="bold">27%</text>
<text x="555.3" y="82.7" font-size="3.8" font-weight="bold">P&lt;0.001</text>
<rect x="533.5" y="85.3" width="106.2" height="3.6" fill="#3b87ec"/>
<rect x="533.5" y="88.9" width="19.4" height="3.6" fill="#e5430c"/>
<line x1="532.3" y1="88.9" x2="533.5" y2="88.9" stroke="#8e8e8e" stroke-width="0.4"/>
<text x="493.8" y="90.5" font-size="6.7" font-weight="bold" textLength="34.1" lengthAdjust="spacingAndGlyphs">Cytoplasm</text>
<text x="643.2" y="88.5" font-size="3.8" font-weight="bold">68.3%</text>
<text x="557.0" y="92.5" font-size="3.8" font-weight="bold">P&lt;0.001</text>
<rect x="533.5" y="94.9" width="35.6" height="3.6" fill="#3b87ec"/>
<rect x="533.5" y="98.5" width="24.5" height="3.6" fill="#e5430c"/>
<line x1="532.3" y1="98.5" x2="533.5" y2="98.5" stroke="#8e8e8e" stroke-width="0.4"/>
<text x="488.5" y="100.8" font-size="6.7" font-weight="bold" textLength="39.4" lengthAdjust="spacingAndGlyphs">Centrosome</text>
<text x="573.0" y="97.3" font-size="3.8" font-weight="bold">23.3%</text>
<text x="561.6" y="101.4" font-size="3.8" font-weight="bold">P&lt;0.001</text>
<rect x="533.5" y="104.4" width="72.8" height="3.6" fill="#3b87ec"/>
<rect x="533.5" y="108.0" width="47.0" height="3.6" fill="#e5430c"/>
<line x1="532.3" y1="108.0" x2="533.5" y2="108.0" stroke="#8e8e8e" stroke-width="0.4"/>
<text x="495.5" y="110.1" font-size="6.7" font-weight="bold" textLength="31.4" lengthAdjust="spacingAndGlyphs">Lysosome</text>
<text x="610.4" y="107.6" font-size="3.8" font-weight="bold">46.6%</text>
<text x="584.6" y="111.8" font-size="3.8" font-weight="bold">P&lt;0.001</text>
<rect x="533.5" y="114.0" width="115.3" height="3.6" fill="#3b87ec"/>
<rect x="533.5" y="117.6" width="110.4" height="3.6" fill="#e5430c"/>
<line x1="532.3" y1="117.6" x2="533.5" y2="117.6" stroke="#8e8e8e" stroke-width="0.4"/>
<text x="495.6" y="120.8" font-size="6.7" font-weight="bold" textLength="32.3" lengthAdjust="spacingAndGlyphs">Exosomes</text>
<text x="653.0" y="117.0" font-size="3.8" font-weight="bold">74.1%</text>
<text x="647.8" y="121.1" font-size="3.8" font-weight="bold">P&lt;0.001</text>
<line x1="533.5" y1="59.6" x2="658.4" y2="59.6" stroke="#8e8e8e" stroke-width="0.6"/>
<line x1="533.5" y1="127.1" x2="658.4" y2="127.1" stroke="#8e8e8e" stroke-width="0.6"/>
<line x1="533.5" y1="59.6" x2="533.5" y2="127.1" stroke="#8e8e8e" stroke-width="0.6"/>
<text x="593.4" y="170.7" font-size="5.0" text-anchor="middle" font-weight="bold" textLength="39.0" lengthAdjust="spacingAndGlyphs">-Log10 (p-value)</text>
<text x="532.7" y="177.5" font-size="2.8" text-anchor="middle" font-weight="bold" fill="#333">0</text>
<line x1="532.7" y1="179.2" x2="532.7" y2="178.2" stroke="#8e8e8e" stroke-width="0.4"/>
<text x="548.0" y="177.5" font-size="2.8" text-anchor="middle" font-weight="bold" fill="#333">20</text>
<line x1="548.0" y1="179.2" x2="548.0" y2="178.2" stroke="#8e8e8e" stroke-width="0.4"/>
<text x="563.2" y="177.5" font-size="2.8" text-anchor="middle" font-weight="bold" fill="#333">40</text>
<line x1="563.2" y1="179.2" x2="563.2" y2="178.2" stroke="#8e8e8e" stroke-width="0.4"/>
<text x="578.5" y="177.5" font-size="2.8" text-anchor="middle" font-weight="bold" fill="#333">60</text>
<line x1="578.5" y1="179.2" x2="578.5" y2="178.2" stroke="#8e8e8e" stroke-width="0.4"/>
<text x="593.7" y="177.5" font-size="2.8" text-anchor="middle" font-weight="bold" fill="#333">80</text>
<line x1="593.7" y1="179.2" x2="593.7" y2="178.2" stroke="#8e8e8e" stroke-width="0.4"/>
<text x="609.0" y="177.5" font-size="2.8" text-anchor="middle" font-weight="bold" fill="#333">100</text>
<line x1="609.0" y1="179.2" x2="609.0" y2="178.2" stroke="#8e8e8e" stroke-width="0.4"/>
<text x="624.2" y="177.5" font-size="2.8" text-anchor="middle" font-weight="bold" fill="#333">120</text>
<line x1="624.2" y1="179.2" x2="624.2" y2="178.2" stroke="#8e8e8e" stroke-width="0.4"/>
<text x="639.5" y="177.5" font-size="2.8" text-anchor="middle" font-weight="bold" fill="#333">140</text>
<line x1="639.5" y1="179.2" x2="639.5" y2="178.2" stroke="#8e8e8e" stroke-width="0.4"/>
<text x="654.7" y="177.5" font-size="2.8" text-anchor="middle" font-weight="bold" fill="#333">160</text>
<line x1="654.7" y1="179.2" x2="654.7" y2="178.2" stroke="#8e8e8e" stroke-width="0.4"/>
<text x="532.7" y="252.3" font-size="2.8" text-anchor="middle" font-weight="bold" fill="#333">0</text>
<line x1="532.7" y1="246.8" x2="532.7" y2="247.8" stroke="#8e8e8e" stroke-width="0.4"/>
<text x="563.2" y="252.3" font-size="2.8" text-anchor="middle" font-weight="bold" fill="#333">20</text>
<line x1="563.2" y1="246.8" x2="563.2" y2="247.8" stroke="#8e8e8e" stroke-width="0.4"/>
<text x="593.7" y="252.3" font-size="2.8" text-anchor="middle" font-weight="bold" fill="#333">40</text>
<line x1="593.7" y1="246.8" x2="593.7" y2="247.8" stroke="#8e8e8e" stroke-width="0.4"/>
<text x="624.2" y="252.3" font-size="2.8" text-anchor="middle" font-weight="bold" fill="#333">60</text>
<line x1="624.2" y1="246.8" x2="624.2" y2="247.8" stroke="#8e8e8e" stroke-width="0.4"/>
<text x="654.7" y="252.3" font-size="2.8" text-anchor="middle" font-weight="bold" fill="#333">80</text>
<line x1="654.7" y1="246.8" x2="654.7" y2="247.8" stroke="#8e8e8e" stroke-width="0.4"/>
<text x="569.9" y="260.0" font-size="5.6" font-weight="bold" textLength="48.6" lengthAdjust="spacingAndGlyphs">Percentage of genes</text>
<rect x="532.7" y="185.9" width="50.3" height="3.6" fill="#3b87ec"/>
<rect x="532.7" y="189.5" width="16.0" height="3.6" fill="#e5430c"/>
<line x1="531.5" y1="189.5" x2="532.7" y2="189.5" stroke="#8e8e8e" stroke-width="0.4"/>
<text x="486.6" y="190.9" font-size="6.7" font-weight="bold" textLength="40.7" lengthAdjust="spacingAndGlyphs">Extracellular</text>
<text x="586.7" y="189.3" font-size="3.8" font-weight="bold">33.1%</text>
<text x="552.9" y="193.0" font-size="3.8" font-weight="bold">P&lt;0.001</text>
<rect x="532.7" y="195.6" width="24.3" height="3.6" fill="#3b87ec"/>
<rect x="532.7" y="199.2" width="17.5" height="3.6" fill="#e5430c"/>
<line x1="531.5" y1="199.2" x2="532.7" y2="199.2" stroke="#8e8e8e" stroke-width="0.4"/>
<text x="485.2" y="201.0" font-size="6.7" font-weight="bold" textLength="42.1" lengthAdjust="spacingAndGlyphs">Cytoskeleton</text>
<text x="558.5" y="198.0" font-size="3.8" font-weight="bold">16.1%</text>
<text x="554.3" y="202.2" font-size="3.8" font-weight="bold">P&lt;0.001</text>
<rect x="532.7" y="205.3" width="103.3" height="3.6" fill="#3b87ec"/>
<rect x="532.7" y="208.9" width="19.1" height="3.6" fill="#e5430c"/>
<line x1="531.5" y1="208.9" x2="532.7" y2="208.9" stroke="#8e8e8e" stroke-width="0.4"/>
<text x="492.4" y="211.3" font-size="6.7" font-weight="bold" textLength="34.1" lengthAdjust="spacingAndGlyphs">Cytoplasm</text>
<text x="639.5" y="208.6" font-size="3.8" font-weight="bold">68.1%</text>
<text x="556.6" y="212.7" font-size="3.8" font-weight="bold">P&lt;0.001</text>
<rect x="532.7" y="215.1" width="33.0" height="3.6" fill="#3b87ec"/>
<rect x="532.7" y="218.7" width="21.6" height="3.6" fill="#e5430c"/>
<line x1="531.5" y1="218.7" x2="532.7" y2="218.7" stroke="#8e8e8e" stroke-width="0.4"/>
<text x="487.9" y="221.8" font-size="6.7" font-weight="bold" textLength="39.4" lengthAdjust="spacingAndGlyphs">Centrosome</text>
<text x="569.0" y="217.9" font-size="3.8" font-weight="bold">21.7%</text>
<text x="558.5" y="222.1" font-size="3.8" font-weight="bold">P&lt;0.001</text>
<rect x="532.7" y="224.8" width="70.0" height="3.6" fill="#3b87ec"/>
<rect x="532.7" y="228.4" width="47.2" height="3.6" fill="#e5430c"/>
<line x1="531.5" y1="228.4" x2="532.7" y2="228.4" stroke="#8e8e8e" stroke-width="0.4"/>
<text x="495.9" y="230.9" font-size="6.7" font-weight="bold" textLength="31.4" lengthAdjust="spacingAndGlyphs">Lysosome</text>
<text x="606.9" y="227.7" font-size="3.8" font-weight="bold">46.4%</text>
<text x="584.0" y="232.1" font-size="3.8" font-weight="bold">P&lt;0.001</text>
<rect x="532.7" y="234.5" width="110.1" height="3.6" fill="#3b87ec"/>
<rect x="532.7" y="238.1" width="108.0" height="3.6" fill="#e5430c"/>
<line x1="531.5" y1="238.1" x2="532.7" y2="238.1" stroke="#8e8e8e" stroke-width="0.4"/>
<text x="494.0" y="240.8" font-size="6.7" font-weight="bold" textLength="32.3" lengthAdjust="spacingAndGlyphs">Exosomes</text>
<text x="646.8" y="237.5" font-size="3.8" font-weight="bold">72.9%</text>
<text x="644.7" y="241.6" font-size="3.8" font-weight="bold">P&lt;0.001</text>
<line x1="532.7" y1="179.2" x2="654.7" y2="179.2" stroke="#8e8e8e" stroke-width="0.6"/>
<line x1="532.7" y1="246.8" x2="654.7" y2="246.8" stroke="#8e8e8e" stroke-width="0.6"/>
<line x1="532.7" y1="179.2" x2="532.7" y2="246.8" stroke="#8e8e8e" stroke-width="0.6"/>
<text x="354.5" y="285.0" font-size="7.4" font-weight="bold">F)</text>
<text x="353.0" y="302.6" font-size="7.4" font-weight="bold" textLength="47.5" lengthAdjust="spacingAndGlyphs">CTC lines EVs</text>
<text x="517.0" y="302.8" font-size="7.4" font-weight="bold" textLength="46.0" lengthAdjust="spacingAndGlyphs">SW lines EVs</text>
<rect x="350.5" y="308.0" width="68.2" height="65.3" fill="#fdecef" stroke="#f0899d" stroke-width="0.8"/>
<rect x="421.2" y="308.0" width="68.8" height="56.5" fill="#cfe6f7" stroke="#9fcdf0" stroke-width="0.7"/>
<text x="364.0" y="315.6" font-size="6.6" font-weight="bold" fill="#ea5274" textLength="40.5" lengthAdjust="spacingAndGlyphs">Vesiclepedia</text>
<text x="425.0" y="315.6" font-size="6.6" font-weight="bold" fill="#2b8fd8" textLength="63.0" lengthAdjust="spacingAndGlyphs">Hoshino <tspan font-style="italic">et al.</tspan> 2020</text>
<text x="357.0" y="324.2" font-size="4.85" font-weight="bold">PDCD6IP</text>
<text x="395.3" y="324.2" font-size="4.85" text-anchor="middle" font-weight="bold">CD9</text>
<text x="357.0" y="334.7" font-size="4.85" font-weight="bold">GAPDH</text>
<text x="395.3" y="334.7" font-size="4.85" text-anchor="middle" font-weight="bold">PKM</text>
<text x="357.0" y="345.4" font-size="4.85" font-weight="bold">HSPA8</text>
<text x="395.3" y="345.4" font-size="4.85" text-anchor="middle" font-weight="bold">HSP90AA1</text>
<text x="357.0" y="355.7" font-size="4.85" font-weight="bold">ACTB</text>
<text x="395.3" y="355.7" font-size="4.85" text-anchor="middle" font-weight="bold">ENO1</text>
<text x="357.0" y="366.7" font-size="4.85" font-weight="bold">ANXA2</text>
<text x="395.3" y="366.7" font-size="4.85" text-anchor="middle" font-weight="bold" fill="#ee1c25">ANXA5</text>
<text x="425.5" y="326.2" font-size="4.85" font-weight="bold">CD9</text>
<text x="462.0" y="326.2" font-size="4.85" font-weight="bold">ACTB</text>
<text x="425.5" y="336.7" font-size="4.85" font-weight="bold">HSPA8</text>
<text x="462.0" y="336.7" font-size="4.85" font-weight="bold">MSN</text>
<text x="425.5" y="347.2" font-size="4.85" font-weight="bold">PDCD6IP</text>
<text x="462.0" y="347.2" font-size="4.85" font-weight="bold">RAP1B</text>
<text x="425.5" y="357.7" font-size="4.85" font-weight="bold">HSP90AB1</text>
<rect x="514.0" y="307.3" width="68.4" height="65.7" fill="#fdecef" stroke="#f0899d" stroke-width="0.8"/>
<rect x="585.0" y="307.5" width="68.5" height="56.2" fill="#cfe6f7" stroke="#9fcdf0" stroke-width="0.7"/>
<text x="527.7" y="314.6" font-size="6.6" font-weight="bold" fill="#ea5274" textLength="40.3" lengthAdjust="spacingAndGlyphs">Vesiclepedia</text>
<text x="588.6" y="315.3" font-size="6.6" font-weight="bold" fill="#2b8fd8" textLength="62.4" lengthAdjust="spacingAndGlyphs">Hoshino <tspan font-style="italic">et al.</tspan> 2020</text>
<text x="520.7" y="323.4" font-size="4.85" font-weight="bold">PDCD6IP</text>
<text x="558.7" y="323.4" font-size="4.85" text-anchor="middle" font-weight="bold" fill="#ee1c25">CD9</text>
<text x="520.7" y="333.7" font-size="4.85" font-weight="bold">GAPDH</text>
<text x="558.7" y="333.7" font-size="4.85" text-anchor="middle" font-weight="bold">PKM</text>
<text x="520.7" y="344.7" font-size="4.85" font-weight="bold">HSPA8</text>
<text x="558.7" y="344.7" font-size="4.85" text-anchor="middle" font-weight="bold">HSP90AA1</text>
<text x="520.7" y="354.7" font-size="4.85" font-weight="bold">ACTB</text>
<text x="558.7" y="354.7" font-size="4.85" text-anchor="middle" font-weight="bold">ENO1</text>
<text x="520.7" y="365.7" font-size="4.85" font-weight="bold">ANXA2</text>
<text x="558.7" y="365.7" font-size="4.85" text-anchor="middle" font-weight="bold" fill="#ee1c25">ANXA5</text>
<text x="589.0" y="324.7" font-size="4.85" font-weight="bold" fill="#ee1c25">CD9</text>
<text x="625.7" y="324.7" font-size="4.85" font-weight="bold">ACTB</text>
<text x="589.0" y="335.4" font-size="4.85" font-weight="bold">HSPA8</text>
<text x="625.7" y="335.4" font-size="4.85" font-weight="bold">MSN</text>
<text x="589.0" y="345.7" font-size="4.85" font-weight="bold">PDCD6IP</text>
<text x="625.7" y="345.7" font-size="4.85" font-weight="bold">RAP1B</text>
<text x="589.0" y="356.7" font-size="4.85" font-weight="bold">HSP90AB1</text>
<text x="111.0" y="390.0" font-size="7.2" font-weight="bold">G)</text>
<text x="252.6" y="398.7" font-size="7.65" text-anchor="middle" font-weight="bold">Cellular component</text>
<text x="252.6" y="407.7" font-size="7.65" text-anchor="middle" font-weight="bold">(cytoplasm proteins)</text>
<rect x="157.1" y="438.7" width="170.0" height="17.0" rx="0.8" fill="#f5b5b7" stroke="#dc8e91" stroke-width="0.6"/>
<text x="217.0" y="447.0" font-size="7.0" fill="#222" textLength="53.7" lengthAdjust="spacingAndGlyphs">66.59% p&lt; 0.001</text>
<text x="153.8" y="448.8" font-size="5.2" text-anchor="end" fill="#222">CTC-MCC-41 EVs</text>
<rect x="157.1" y="463.2" width="168.1" height="17.0" rx="0.8" fill="#b5cde9" stroke="#8fb1d8" stroke-width="0.6"/>
<text x="229.3" y="471.8" font-size="7.0" fill="#222" textLength="53.7" lengthAdjust="spacingAndGlyphs">65.86% p&lt; 0.001</text>
<text x="153.8" y="473.3" font-size="5.2" text-anchor="end" fill="#222">CTC-MCC-41.4 EVs</text>
<rect x="157.1" y="488.2" width="160.9" height="17.0" rx="0.8" fill="#cae9c5" stroke="#a0cf9a" stroke-width="0.6"/>
<text x="233.0" y="497.0" font-size="7.0" fill="#222" textLength="53.7" lengthAdjust="spacingAndGlyphs">63.04% p&lt; 0.001</text>
<text x="153.8" y="498.3" font-size="5.2" text-anchor="end" fill="#222">CTC-MCC-41.5G EVs</text>
<rect x="157.1" y="513.3" width="174.4" height="17.1" rx="0.8" fill="#ddc9e3" stroke="#c0a5ca" stroke-width="0.6"/>
<text x="233.0" y="521.8" font-size="7.0" fill="#222" textLength="53.7" lengthAdjust="spacingAndGlyphs">68.31% p&lt; 0.001</text>
<text x="153.8" y="523.5" font-size="5.2" text-anchor="end" fill="#222">SW480 EVs</text>
<rect x="157.1" y="537.7" width="173.8" height="17.0" rx="0.8" fill="#fbd6a1" stroke="#e9b775" stroke-width="0.6"/>
<text x="233.0" y="546.6" font-size="7.0" fill="#222" textLength="53.7" lengthAdjust="spacingAndGlyphs">68.06% p&lt; 0.001</text>
<text x="153.8" y="547.8" font-size="5.2" text-anchor="end" fill="#222">SW620 EVs</text>
<line x1="156.6" y1="420.0" x2="156.6" y2="573.8" stroke="#5a5a5a" stroke-width="0.9"/>
<line x1="156.6" y1="573.4" x2="349.2" y2="573.4" stroke="#5a5a5a" stroke-width="0.9"/>
<line x1="157.1" y1="573.4" x2="157.1" y2="575.1" stroke="#5a5a5a" stroke-width="0.6"/>
<text x="157.1" y="580.2" font-size="4.0" text-anchor="middle" fill="#2a2a2a">0</text>
<line x1="195.4" y1="573.4" x2="195.4" y2="575.1" stroke="#5a5a5a" stroke-width="0.6"/>
<text x="195.4" y="580.2" font-size="4.0" text-anchor="middle" fill="#2a2a2a">15</text>
<line x1="233.7" y1="573.4" x2="233.7" y2="575.1" stroke="#5a5a5a" stroke-width="0.6"/>
<text x="233.7" y="580.2" font-size="4.0" text-anchor="middle" fill="#2a2a2a">30</text>
<line x1="272.0" y1="573.4" x2="272.0" y2="575.1" stroke="#5a5a5a" stroke-width="0.6"/>
<text x="272.0" y="580.2" font-size="4.0" text-anchor="middle" fill="#2a2a2a">45</text>
<line x1="310.3" y1="573.4" x2="310.3" y2="575.1" stroke="#5a5a5a" stroke-width="0.6"/>
<text x="310.3" y="580.2" font-size="4.0" text-anchor="middle" fill="#2a2a2a">60</text>
<line x1="348.6" y1="573.4" x2="348.6" y2="575.1" stroke="#5a5a5a" stroke-width="0.6"/>
<text x="348.6" y="580.2" font-size="4.0" text-anchor="middle" fill="#2a2a2a">75</text>
<text x="210.4" y="590.9" font-size="7.7" font-weight="bold" textLength="82.6" lengthAdjust="spacingAndGlyphs">Percentage of proteins</text>
<text x="457.5" y="400.7" font-size="7.65" text-anchor="middle" font-weight="bold">Cellular component</text>
<text x="457.5" y="409.7" font-size="7.65" text-anchor="middle" font-weight="bold">(Exosomes proteins)</text>
<rect x="362.4" y="440.1" width="171.9" height="17.0" rx="0.8" fill="#f5b5b7" stroke="#dc8e91" stroke-width="0.6"/>
<text x="421.6" y="448.3" font-size="7.0" fill="#222" textLength="53.7" lengthAdjust="spacingAndGlyphs">72.35% p&lt; 0.001</text>
<rect x="362.4" y="464.9" width="183.0" height="16.9" rx="0.8" fill="#b5cde9" stroke="#8fb1d8" stroke-width="0.6"/>
<text x="434.0" y="473.3" font-size="7.0" fill="#222" textLength="53.7" lengthAdjust="spacingAndGlyphs">77.04% p&lt; 0.001</text>
<rect x="362.4" y="489.7" width="188.2" height="16.9" rx="0.8" fill="#cae9c5" stroke="#a0cf9a" stroke-width="0.6"/>
<text x="437.8" y="498.3" font-size="7.0" fill="#222" textLength="53.7" lengthAdjust="spacingAndGlyphs">79.19% p&lt; 0.001</text>
<rect x="362.4" y="514.1" width="176.1" height="16.9" rx="0.8" fill="#ddc9e3" stroke="#c0a5ca" stroke-width="0.6"/>
<text x="437.8" y="522.7" font-size="7.0" fill="#222" textLength="53.7" lengthAdjust="spacingAndGlyphs">74.13% p&lt; 0.001</text>
<rect x="362.4" y="538.3" width="172.9" height="17.1" rx="0.8" fill="#fbd6a1" stroke="#e9b775" stroke-width="0.6"/>
<text x="437.8" y="547.5" font-size="7.0" fill="#222" textLength="53.7" lengthAdjust="spacingAndGlyphs">72.78% p&lt; 0.001</text>
<line x1="361.9" y1="421.6" x2="361.9" y2="574.5" stroke="#858585" stroke-width="0.9"/>
<line x1="361.9" y1="574.1" x2="552.6" y2="574.1" stroke="#858585" stroke-width="0.9"/>
<line x1="362.4" y1="574.1" x2="362.4" y2="575.8" stroke="#858585" stroke-width="0.6"/>
<text x="362.4" y="580.8" font-size="4.0" text-anchor="middle" fill="#2a2a2a">0</text>
<line x1="398.0" y1="574.1" x2="398.0" y2="575.8" stroke="#858585" stroke-width="0.6"/>
<text x="398.0" y="580.8" font-size="4.0" text-anchor="middle" fill="#2a2a2a">15</text>
<line x1="433.7" y1="574.1" x2="433.7" y2="575.8" stroke="#858585" stroke-width="0.6"/>
<text x="433.7" y="580.8" font-size="4.0" text-anchor="middle" fill="#2a2a2a">30</text>
<line x1="469.3" y1="574.1" x2="469.3" y2="575.8" stroke="#858585" stroke-width="0.6"/>
<text x="469.3" y="580.8" font-size="4.0" text-anchor="middle" fill="#2a2a2a">45</text>
<line x1="505.0" y1="574.1" x2="505.0" y2="575.8" stroke="#858585" stroke-width="0.6"/>
<text x="505.0" y="580.8" font-size="4.0" text-anchor="middle" fill="#2a2a2a">60</text>
<line x1="540.6" y1="574.1" x2="540.6" y2="575.8" stroke="#858585" stroke-width="0.6"/>
<text x="540.6" y="580.8" font-size="4.0" text-anchor="middle" fill="#2a2a2a">75</text>
<text x="418.4" y="591.4" font-size="7.7" font-weight="bold" textLength="82.6" lengthAdjust="spacingAndGlyphs">Percentage of proteins</text>
</svg>
</body></html>
